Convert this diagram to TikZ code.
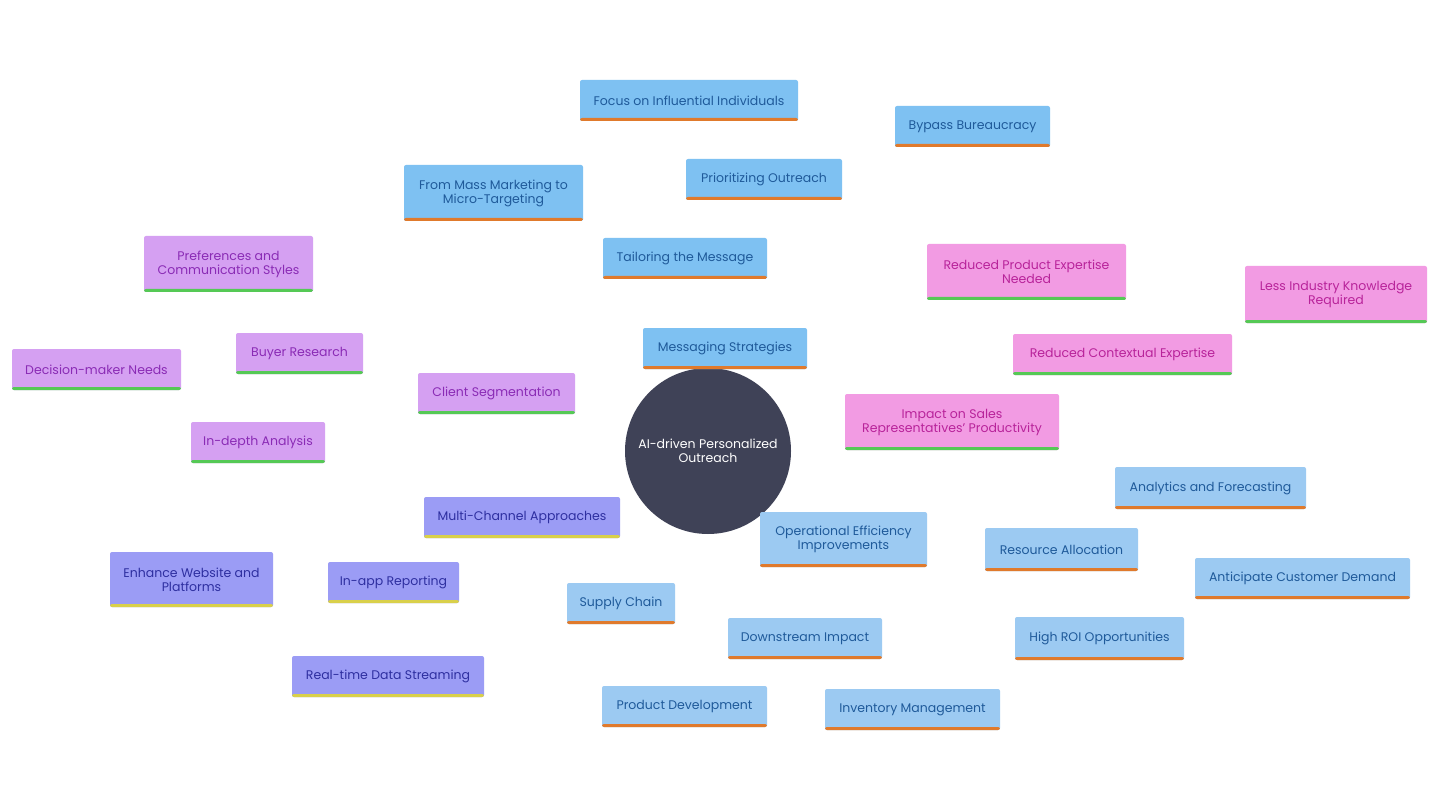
\documentclass[tikz,border=0pt]{standalone}
\usepackage{fontspec}
\setmainfont{Poppins}
\usetikzlibrary{backgrounds}
\definecolor{bF}{HTML}{7EC1F2}\definecolor{bT}{HTML}{1F5A9A}\definecolor{bE}{HTML}{86BFE6}
\definecolor{oF}{HTML}{9CCAF2}
\definecolor{pF}{HTML}{D5A0F2}\definecolor{pT}{HTML}{8A2BB5}\definecolor{pE}{HTML}{C99BE8}
\definecolor{kF}{HTML}{F29BE3}\definecolor{kT}{HTML}{B8239A}\definecolor{kE}{HTML}{EE9BDF}
\definecolor{iF}{HTML}{9B9CF5}\definecolor{iT}{HTML}{2E2FA0}\definecolor{iE}{HTML}{9E9EEA}
\definecolor{orB}{HTML}{E07A2C}\definecolor{grB}{HTML}{55C955}\definecolor{yeB}{HTML}{D9D04A}
\definecolor{ctr}{HTML}{3F4257}
\tikzset{
 bx/.style n args={3}{rounded corners=2pt,align=center,inner sep=0pt,font=\fontsize{12.5}{14}\selectfont,
   fill=#1,text=#2,path picture={\fill[#3] (path picture bounding box.south west) rectangle ([yshift=3pt]path picture bounding box.south east);}},
 blue/.style={bx={bF}{bT}{orB}}, ops/.style={bx={oF}{bT}{orB}},
 purp/.style={bx={pF}{pT}{grB}}, pink/.style={bx={kF}{kT}{grB}}, indi/.style={bx={iF}{iT}{yeB}},
 eb/.style={draw=bE,line width=2.2pt}, ep/.style={draw=pE,line width=2.2pt},
 ek/.style={draw=kE,line width=2.2pt}, ei/.style={draw=iE,line width=2.2pt}}
\newcommand{\bnode}[7]{\node[#1,minimum width={#5-#3},minimum height={#6-#4}] (#2) at ({(#3+#5)/2},{(#4+#6)/2}) {#7};}
\begin{document}
\begin{tikzpicture}[x=1pt,y=-1pt]
\useasboundingbox[fill=white] (0,0) rectangle (1440,810);
\node[circle,fill=ctr,minimum size=166pt,text=white,align=center,font=\fontsize{12.5}{14}\selectfont] (c) at (708,451) {AI-driven Personalized\\Outreach};
\bnode{blue}{focus}{580}{80}{798}{121}{Focus on Influential Individuals}
\bnode{blue}{bypass}{895}{106}{1050}{147}{Bypass Bureaucracy}
\bnode{blue}{prior}{686}{159}{842}{200}{Prioritizing Outreach}
\bnode{blue}{mass}{404}{165}{583}{221}{From Mass Marketing to\\Micro-Targeting}
\bnode{blue}{tailor}{603}{238}{767}{279}{Tailoring the Message}
\bnode{blue}{msg}{643}{328}{807}{369}{Messaging Strategies}
\bnode{purp}{pref}{144}{236}{313}{292}{Preferences and\\Communication Styles}
\bnode{purp}{buyer}{236}{333}{363}{374}{Buyer Research}
\bnode{purp}{dec}{12}{349}{181}{390}{Decision-maker Needs}
\bnode{purp}{seg}{418}{373}{575}{414}{Client Segmentation}
\bnode{purp}{indepth}{191}{422}{325}{463}{In-depth Analysis}
\bnode{pink}{rprod}{927}{244}{1126}{300}{Reduced Product Expertise\\Needed}
\bnode{pink}{less}{1245}{266}{1427}{323}{Less Industry Knowledge\\Required}
\bnode{pink}{rctx}{1013}{334}{1232}{375}{Reduced Contextual Expertise}
\bnode{pink}{impact}{845}{394}{1059}{450}{Impact on Sales\\Representatives’ Productivity}
\bnode{indi}{multi}{424}{497}{620}{538}{Multi-Channel Approaches}
\bnode{indi}{enh}{110}{552}{273}{607}{Enhance Website and\\Platforms}
\bnode{indi}{inapp}{328}{562}{459}{603}{In-app Reporting}
\bnode{indi}{rt}{292}{656}{484}{697}{Real-time Data Streaming}
\bnode{ops}{anal}{1115}{467}{1306}{509}{Analytics and Forecasting}
\bnode{ops}{opeff}{760}{512}{927}{567}{Operational Efficiency\\Improvements}
\bnode{ops}{res}{985}{528}{1138}{571}{Resource Allocation}
\bnode{ops}{antic}{1195}{558}{1410}{599}{Anticipate Customer Demand}
\bnode{ops}{supply}{567}{583}{675}{624}{Supply Chain}
\bnode{ops}{down}{728}{618}{882}{659}{Downstream Impact}
\bnode{ops}{roi}{1015}{617}{1184}{660}{High ROI Opportunities}
\bnode{ops}{pdev}{602}{686}{767}{727}{Product Development}
\bnode{ops}{inv}{825}{689}{1000}{730}{Inventory Management}
\begin{scope}[on background layer]
\draw[eb] (c.center)--(msg.center) (msg.center)--(tailor.center) (tailor.center)--(mass.center)
 (tailor.center)--(prior.center) (prior.center)--(focus.center) (prior.center)--(bypass.center)
 (c.center)--(opeff.center) (opeff.center)--(res.center) (res.center)--(anal.center)
 (res.center)--(antic.center) (res.center)--(roi.center) (opeff.center)--(down.center)
 (down.center)--(supply.center) (down.center)--(pdev.center) (down.center)--(inv.center);
\draw[ep] (c.center)--(seg.center) (seg.center)--(buyer.center) (buyer.center)--(pref.center)
 (buyer.center)--(dec.center) (buyer.center)--(indepth.center);
\draw[ek] (c.center)--(impact.center) (impact.center)--(rctx.center) (rctx.center)--(rprod.center) (rctx.center)--(less.center);
\draw[ei] (c.center)--(multi.center) (multi.center)--(inapp.center) (inapp.center)--(enh.center) (inapp.center)--(rt.center);
\end{scope}
\end{tikzpicture}
\end{document}
